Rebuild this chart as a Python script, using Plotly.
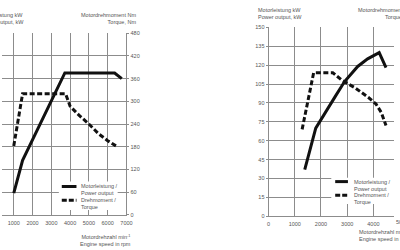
import plotly.graph_objects as go

# ---------------- data ----------------
# Left chart (engine A)
left_power_rpm = [1000, 1470, 3720, 6370, 6750]
left_power_kw = [19, 48, 125, 125, 120]
left_torque_rpm = [1000, 1470, 3760, 4000, 4500, 5000, 5500, 6000, 6480]
left_torque_nm = [182, 320, 320, 287, 262, 240, 215, 196, 181]
left_torque_ticks = [0, 60, 120, 180, 240, 300, 360, 420, 480]
left_rpm_ticks = [1000, 2000, 3000, 4000, 5000, 6000, 7000]

# Right chart (engine B)
right_power_rpm = [1380, 1800, 2540, 2900, 3400, 3780, 4220, 4480]
right_power_kw = [37, 70, 95, 107, 119, 125, 130, 118]
right_torque_rpm = [1280, 1720, 2450, 2800, 3300, 3800, 4100, 4300, 4480]
right_torque_nm = [230, 380, 380, 360, 340, 315, 297, 275, 240]
right_power_ticks = [0, 15, 30, 45, 60, 75, 90, 105, 120, 135, 150]
right_rpm_ticks = [0, 1000, 2000, 3000, 4000]

W, H = 400, 250
def px(x):
    return x / W
def py(y):
    return 1 - y / H

FONT = "Liberation Sans, Arial, sans-serif"
TXT = "#555555"
GRID = "#8c8c8c"
LINE = "#111111"
FS = 5.5

fig = go.Figure()

fig.add_trace(go.Scatter(x=left_power_rpm, y=left_power_kw, xaxis="x", yaxis="y",
                         mode="lines", line=dict(color=LINE, width=3), showlegend=False))
fig.add_trace(go.Scatter(x=left_torque_rpm, y=left_torque_nm, xaxis="x", yaxis="y2",
                         mode="lines", line=dict(color=LINE, width=3, dash="5px,2.5px"),
                         showlegend=False))
fig.add_trace(go.Scatter(x=right_power_rpm, y=right_power_kw, xaxis="x2", yaxis="y3",
                         mode="lines", line=dict(color=LINE, width=3), showlegend=False))
fig.add_trace(go.Scatter(x=right_torque_rpm, y=right_torque_nm, xaxis="x2", yaxis="y4",
                         mode="lines", line=dict(color=LINE, width=3, dash="5px,2.5px"),
                         showlegend=False))

tickfont = dict(family=FONT, size=FS, color=TXT)

fig.update_layout(
    width=W, height=H, margin=dict(l=0, r=0, t=0, b=0),
    paper_bgcolor="white", plot_bgcolor="white",
    xaxis=dict(domain=[0, px(127)], range=[374, 7000], anchor="y",
               tickvals=left_rpm_ticks, ticktext=[str(v) for v in left_rpm_ticks],
               showgrid=True, gridcolor=GRID, gridwidth=1, zeroline=False,
               showline=True, linecolor=GRID, linewidth=1, ticks="",
               ticklabelstandoff=3, tickfont=tickfont),
    yaxis=dict(domain=[py(217), py(31)], range=[0, 160], anchor="x", visible=False,
               showgrid=False, zeroline=False),
    yaxis2=dict(overlaying="y", side="right", anchor="x", range=[0, 480],
                tickvals=left_torque_ticks, showgrid=True, gridcolor=GRID, gridwidth=1,
                zeroline=False, showline=True, linecolor=GRID, linewidth=1,
                ticks="outside", ticklen=2, tickcolor=GRID, tickfont=tickfont),
    xaxis2=dict(domain=[px(272), 1], range=[0, 4785], anchor="y3",
                tickvals=right_rpm_ticks, showgrid=True, gridcolor=GRID, gridwidth=1,
                zeroline=False, showline=True, linecolor=GRID, linewidth=1,
                ticks="", ticklabelstandoff=2, tickfont=tickfont),
    yaxis3=dict(domain=[py(218.5), py(25)], range=[0, 150], anchor="x2", side="left",
                tickvals=right_power_ticks, showgrid=True, gridcolor=GRID, gridwidth=1,
                zeroline=False, showline=True, linecolor=GRID, linewidth=1,
                ticks="outside", ticklen=2, tickcolor=GRID, tickfont=tickfont),
    yaxis4=dict(overlaying="y3", side="right", anchor="x2", range=[0, 500], visible=False,
                showgrid=False, zeroline=False),
)

anns = []
def ann(text, x, y, xanchor="left", align="left"):
    anns.append(dict(text=text, x=px(x), y=py(y), xref="paper", yref="paper",
                     xanchor=xanchor, yanchor="middle", align=align, showarrow=False,
                     font=dict(family=FONT, size=FS, color=TXT)))

# left chart texts
ann("Motorleistung kW<br>Power output, kW", 24, 15.5, "right", "left")
ann("Motordrehmoment Nm<br>Torque, Nm", 139, 15.5, "right", "right")
ann("Motordrehzahl min<sup>-1</sup><br>Engine speed in rpm", 134, 243.5, "right", "right")
# right chart texts
ann("Motorleistung kW<br>Power output, kW", 259, 10.5, "left", "left")
ann("Motordrehmoment Nm", 361, 7, "left", "left")
ann("Torque, Nm", 389, 14, "left", "left")
ann("Motordrehzahl min<sup>-1</sup><br>Engine speed in rpm", 362, 238.5, "left", "left")
ann("5000", 399.5, 224, "left", "left")

shapes = []
def leg(x0, x1, ytop, ybot, sx0, sx1, y_solid, y_dash, tx):
    shapes.append(dict(type="rect", xref="paper", yref="paper", x0=px(x0), x1=px(x1),
                       y0=py(ybot), y1=py(ytop), fillcolor="white", line=dict(width=0),
                       layer="above"))
    shapes.append(dict(type="line", xref="paper", yref="paper", x0=px(sx0), x1=px(sx1),
                       y0=py(y_solid), y1=py(y_solid), line=dict(color=LINE, width=3)))
    shapes.append(dict(type="line", xref="paper", yref="paper", x0=px(sx0), x1=px(sx1),
                       y0=py(y_dash), y1=py(y_dash),
                       line=dict(color=LINE, width=3, dash="5px,2px")))
    ann("Motorleistung /<br>Power output", tx, y_solid + 3.5)
    ann("Drehmoment /<br>Torque", tx, y_dash + 3.5)

leg(58, 118, 183, 212, 61, 76, 188, 202, 79)
leg(336, 410, 179, 206, 340, 353, 183, 197, 357)

fig.update_layout(annotations=anns, shapes=shapes)
fig.write_html("out.html")
